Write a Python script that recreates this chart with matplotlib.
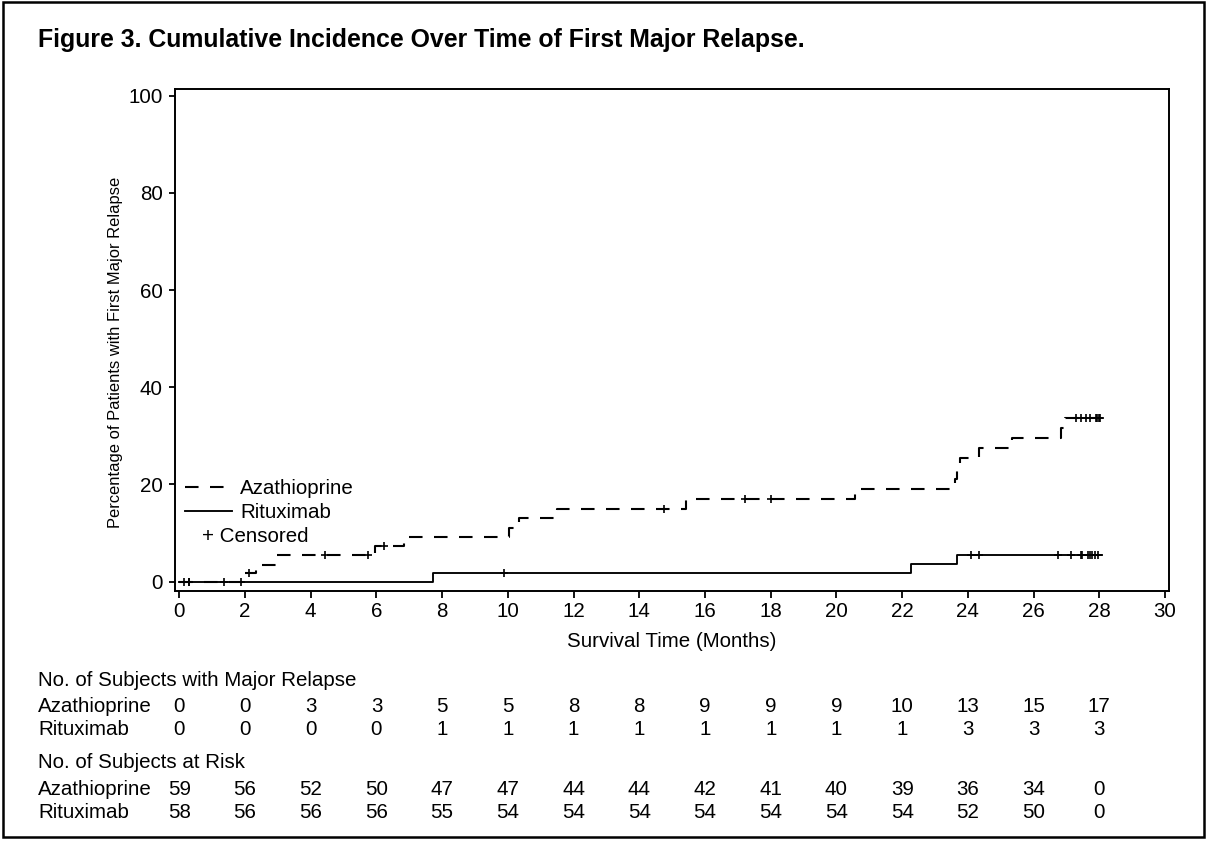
import numpy as np
import matplotlib
matplotlib.use("Agg")
from matplotlib import pyplot as plt
from matplotlib import transforms
from matplotlib.patches import Rectangle

plt.rcParams["font.family"] = ["Liberation Sans", "DejaVu Sans"]

# Step curves: event times (months) and cumulative incidence (%) after each step
aza_times = [0, 1.99, 2.32, 2.98, 5.95, 6.85, 10.02, 10.35, 11.49, 15.42,
             20.56, 23.61, 23.68, 23.75, 24.35, 25.33, 26.82, 26.95]
aza_pct = [0, 1.7, 3.4, 5.4, 7.3, 9.2, 11.1, 13.1, 15.0, 17.0,
           19.1, 21.2, 23.3, 25.5, 27.5, 29.6, 31.6, 33.7]
aza_end = 28.06
aza_censor = [0.13, 0.29, 1.88, 2.13, 4.42, 5.75, 6.24, 14.76, 17.22, 18.0,
              27.28, 27.43, 27.58, 27.73, 27.9, 27.94, 27.98, 28.02]

rtx_times = [0, 7.73, 22.27, 23.68]
rtx_pct = [0, 1.7, 3.6, 5.5]
rtx_end = 28.07
rtx_censor = [0.29, 1.37, 9.89, 24.08, 24.35, 26.75, 27.13, 27.43, 27.48,
              27.66, 27.71, 27.78, 27.86, 27.96]

# Table below the plot
table_months = list(range(0, 30, 2))
relapse_aza = [0, 0, 3, 3, 5, 5, 8, 8, 9, 9, 9, 10, 13, 15, 17]
relapse_rtx = [0, 0, 0, 0, 1, 1, 1, 1, 1, 1, 1, 1, 3, 3, 3]
risk_aza = [59, 56, 52, 50, 47, 47, 44, 44, 42, 41, 40, 39, 36, 34, 0]
risk_rtx = [58, 56, 56, 56, 55, 54, 54, 54, 54, 54, 54, 54, 52, 50, 0]

FS = 14.8
W, H = 1208, 841

fig = plt.figure(figsize=(W / 100, H / 100), dpi=100)
ax = fig.add_axes([175 / W, 1 - 590.5 / H, (1169.3 - 175) / W, (590.5 - 89.3) / H])


def level_at(times, pct, t):
    idx = np.searchsorted(times, t, side="right") - 1
    return np.array(pct)[idx]


# Azathioprine (dashed)
ax.step(aza_times + [aza_end], aza_pct + [aza_pct[-1]], where="post",
        color="black", lw=1.5, dashes=(6.5, 5.5), label="Azathioprine")
ax.plot(aza_censor, level_at(aza_times, aza_pct, aza_censor), "+",
        color="black", ms=6, mew=1.2)

# Rituximab (solid)
ax.step(rtx_times + [rtx_end], rtx_pct + [rtx_pct[-1]], where="post",
        color="black", lw=1.35, label="Rituximab")
ax.plot(rtx_censor, level_at(rtx_times, rtx_pct, rtx_censor), "+",
        color="black", ms=6, mew=1.2)

ax.set_xlim(-0.13, 30.13)
ax.set_ylim(-1.81, 101.3)
ax.set_xticks(range(0, 31, 2))
ax.set_yticks(range(0, 101, 20))
ax.tick_params(direction="out", length=5, width=1.3, labelsize=FS, pad=3)
ax.tick_params(axis="y", length=4.3, pad=4.5)
for sp in ax.spines.values():
    sp.set_linewidth(1.4)

ax.set_xlabel("Survival Time (Months)", fontsize=FS)
ax.xaxis.set_label_coords(0.5, -0.083)
ax.set_ylabel("Percentage of Patients with First Major Relapse", fontsize=11.9)
ax.yaxis.set_label_coords(-0.0528, 0.475)

# Legend
ax.legend(loc="upper left", bbox_to_anchor=(0.01, 0.222), frameon=False,
          fontsize=FS, handlelength=2.3, handletextpad=0.4, labelspacing=0.25,
          borderpad=0, borderaxespad=0)
ax.text(0.0272, 0.1087, "+ Censored", transform=ax.transAxes, fontsize=FS,
        ha="left", va="center")

# Title
fig.text(38 / W, 1 - 46.7 / H, "Figure 3. Cumulative Incidence Over Time of First Major Relapse.",
         fontsize=17.9, fontweight="bold", ha="left", va="baseline")

# Numbers table under the axis
blend = transforms.blended_transform_factory(ax.transData, fig.transFigure)
rows = [
    ("No. of Subjects with Major Relapse", None, 685.7),
    ("Azathioprine", relapse_aza, 711.7),
    ("Rituximab", relapse_rtx, 735.0),
    ("No. of Subjects at Risk", None, 768.3),
    ("Azathioprine", risk_aza, 795.0),
    ("Rituximab", risk_rtx, 818.3),
]
for label, values, ypix in rows:
    y = 1 - ypix / H
    fig.text(38 / W, y, label, fontsize=FS, ha="left", va="baseline")
    if values is not None:
        for m, v in zip(table_months, values):
            fig.text(m, y, str(v), transform=blend, fontsize=FS,
                     ha="center", va="baseline")

# Outer frame
fig.add_artist(Rectangle((2.5 / W, 1 - 837 / H), 1201 / W, 835 / H,
                         transform=fig.transFigure, fill=False,
                         edgecolor="black", lw=1.8))

fig.savefig("out.png", dpi=100)
